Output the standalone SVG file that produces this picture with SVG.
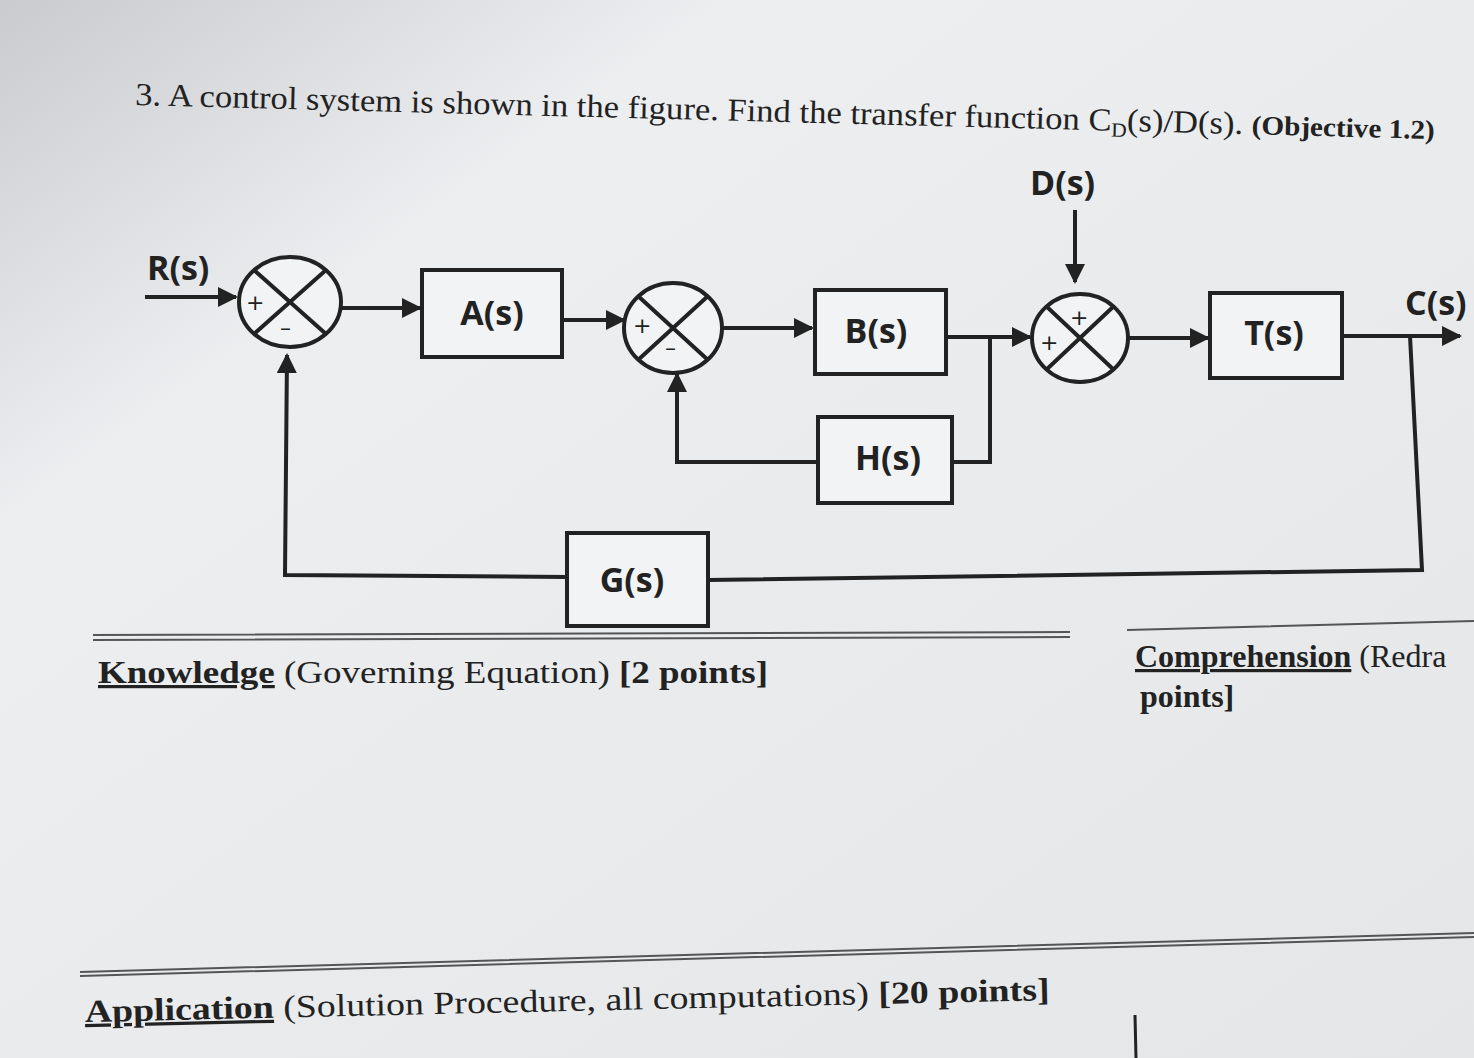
<svg xmlns="http://www.w3.org/2000/svg" width="1474" height="1058" viewBox="0 0 1474 1058">
<defs>
<linearGradient id="bg" x1="0" y1="0" x2="1" y2="1">
<stop offset="0" stop-color="#c9cbcf"/><stop offset="0.25" stop-color="#eceef0"/><stop offset="1" stop-color="#e4e6e8"/>
</linearGradient>
<marker id="ar" viewBox="0 0 10 10" refX="9" refY="5" markerWidth="5" markerHeight="5" orient="auto"><path d="M0,0 L10,5 L0,10 z" fill="#222"/></marker>
<style>
.bx{fill:#f2f3f4;stroke:#222;stroke-width:4}
.ln{fill:none;stroke:#222;stroke-width:4}
.sm{fill:#f2f3f4;stroke:#222;stroke-width:4}
.bl{font-family:"Open Sans","DejaVu Sans",sans-serif;font-weight:bold;font-size:34px;fill:#222}
.sg{font-family:"DejaVu Sans",sans-serif;font-size:22px;fill:#222}
.tx{font-family:"Liberation Serif",serif;font-size:32px;fill:#222}
</style>
</defs>
<rect width="1474" height="1058" fill="url(#bg)"/>
<text class="tx" x="135" y="105" transform="rotate(1.5 135 105)" textLength="1300" lengthAdjust="spacingAndGlyphs">3. A control system is shown in the figure. Find the transfer function C<tspan font-size="20" dy="6">D</tspan><tspan dy="-6">(s)/D(s). </tspan><tspan font-weight="bold" font-size="27">(Objective 1.2)</tspan></text>
<g id="connectors">
<polyline class="ln" points="1075,210 1075,282" marker-end="url(#ar)"/>
<polyline class="ln" points="145,297 236,297" marker-end="url(#ar)"/>
<polyline class="ln" points="342,308 420,308" marker-end="url(#ar)"/>
<polyline class="ln" points="562,320 624,320" marker-end="url(#ar)"/>
<polyline class="ln" points="722,328 812,328" marker-end="url(#ar)"/>
<polyline class="ln" points="946,337 1030,337" marker-end="url(#ar)"/>
<polyline class="ln" points="990,337 990,462 952,462"/>
<polyline class="ln" points="818,462 677,462 677,374" marker-end="url(#ar)"/>
<polyline class="ln" points="1128,338 1208,338" marker-end="url(#ar)"/>
<polyline class="ln" points="1342,336 1460,336" marker-end="url(#ar)"/>
<polyline class="ln" points="1385,336 1410,336 1422,570 708,580"/>
<polyline class="ln" points="567,577 285,575 287,355" marker-end="url(#ar)"/>
</g>
<g id="labels">
<text class="bl" x="147" y="280" font-size="30">R(s)</text>
<text class="bl" x="1030" y="195" font-size="30">D(s)</text>
<text class="bl" x="1405" y="315" font-size="30">C(s)</text>
</g>
<g id="sum1"><ellipse class="sm" cx="290" cy="302" rx="51" ry="45"/><path class="ln" d="M254,270 L326,334 M326,270 L254,334"/><text class="sg" x="246" y="310">+</text><text class="sg" x="280" y="335">–</text></g>
<g id="A"><rect class="bx" x="422" y="270" width="140" height="87"/><text class="bl" x="492" y="325" text-anchor="middle">A(s)</text></g>
<g id="sum2"><ellipse class="sm" cx="673" cy="328" rx="49" ry="45"/><path class="ln" d="M638,296 L708,360 M708,296 L638,360"/><text class="sg" x="633" y="333">+</text><text class="sg" x="665" y="355">–</text></g>
<g id="B"><rect class="bx" x="815" y="290" width="131" height="84"/><text class="bl" x="876" y="343" text-anchor="middle">B(s)</text></g>
<g id="H"><rect class="bx" x="818" y="417" width="134" height="86"/><text class="bl" x="888" y="470" text-anchor="middle">H(s)</text></g>
<g id="sum3"><ellipse class="sm" cx="1080" cy="338" rx="48" ry="44"/><path class="ln" d="M1046,306 L1114,370 M1114,306 L1046,370"/><text class="sg" x="1040" y="350">+</text><text class="sg" x="1070" y="325">+</text></g>
<g id="T"><rect class="bx" x="1210" y="293" width="132" height="85"/><text class="bl" x="1274" y="345" text-anchor="middle">T(s)</text></g>
<g id="G"><rect class="bx" x="567" y="533" width="141" height="93"/><text class="bl" x="632" y="592" text-anchor="middle">G(s)</text></g>
<path d="M93,635 L1070,632 M93,640 L1070,637 M1127,630 L1474,621" stroke="#555" stroke-width="2" fill="none"/>
<text class="tx" x="98" y="683" textLength="670" lengthAdjust="spacingAndGlyphs"><tspan font-weight="bold" text-decoration="underline">Knowledge</tspan> (Governing Equation) <tspan font-weight="bold">[2 points]</tspan></text>
<text class="tx" x="1135" y="667" font-size="32"><tspan font-weight="bold" text-decoration="underline">Comprehension</tspan> (Redra</text>
<text class="tx" x="1140" y="707" font-size="32" font-weight="bold">points]</text>
<path d="M80,972 L1474,933 M80,976 L1474,937" stroke="#555" stroke-width="2" fill="none"/>
<text class="tx" x="85" y="1022" transform="rotate(-1.3 85 1022)" textLength="965" lengthAdjust="spacingAndGlyphs"><tspan font-weight="bold" text-decoration="underline">Application</tspan> (Solution Procedure, all computations) <tspan font-weight="bold">[20 points]</tspan></text>
<line x1="1135" y1="1015" x2="1136" y2="1058" stroke="#222" stroke-width="3"/>
</svg>
